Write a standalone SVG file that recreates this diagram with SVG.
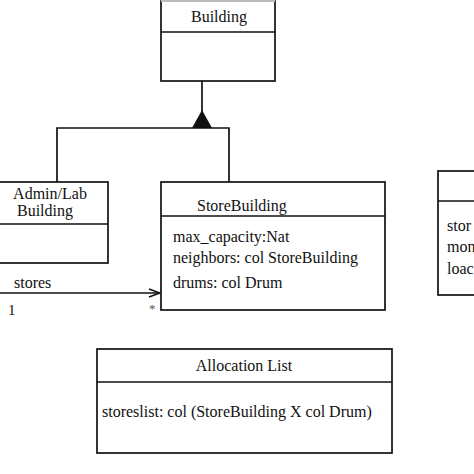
<svg xmlns="http://www.w3.org/2000/svg" width="474" height="474" viewBox="0 0 474 474">
<style>
.box{fill:#fff;stroke:#111;stroke-width:1.7}
.ln{fill:none;stroke:#111;stroke-width:1.7}
text{font-family:"Liberation Serif","Times New Roman",serif;font-size:16px;fill:#111}
.c{text-anchor:middle}
</style>
<defs>
<marker id="open" markerWidth="14" markerHeight="10" refX="12" refY="5" orient="auto" markerUnits="userSpaceOnUse">
<path d="M1,1 L12,5 L1,9" fill="none" stroke="#111" stroke-width="1.5"/>
</marker>
</defs>
<g id="connectors">
<line class="ln" x1="202" y1="81" x2="202" y2="112"/>
<polygon points="202,110 192,128 212,128" fill="#111"/>
<polyline class="ln" points="57,182 57,128 229,128 229,182"/>
<line class="ln" x1="0" y1="293" x2="160" y2="293" marker-end="url(#open)"/>
<text x="14" y="288">stores</text>
<text x="8" y="315" style="font-size:15px">1</text>
<text x="149" y="313" style="font-size:13px;fill:#555">*</text>
</g>
<g id="building">
<rect class="box" x="161" y="1" width="114" height="80"/>
<line x1="161" y1="1" x2="275" y2="1" stroke="#bbb" stroke-width="2"/>
<line class="ln" x1="161" y1="32" x2="275" y2="32"/>
<text class="c" x="219" y="22">Building</text>
</g>
<g id="adminlab">
<rect class="box" x="-10" y="182" width="118" height="81"/>
<line class="ln" x1="-10" y1="224" x2="108" y2="224"/>
<text class="c" x="50" y="199">Admin/Lab</text>
<text class="c" x="45" y="216">Building</text>
</g>
<g id="storebuilding">
<rect class="box" x="161" y="182" width="224" height="128"/>
<line class="ln" x1="161" y1="216" x2="385" y2="216"/>
<text x="197" y="211">StoreBuilding</text>
<text x="173" y="242">max_capacity:Nat</text>
<text x="173" y="263">neighbors: col StoreBuilding</text>
<text x="173" y="288">drums: col Drum</text>
</g>
<g id="rightbox">
<rect class="box" x="438" y="171" width="50" height="124"/>
<line class="ln" x1="438" y1="201" x2="488" y2="201"/>
<text x="447" y="231">stor</text>
<text x="447" y="252">mon</text>
<text x="447" y="274">loac</text>
</g>
<g id="allocation">
<rect class="box" x="97" y="349" width="295" height="104"/>
<line class="ln" x1="97" y1="382" x2="392" y2="382"/>
<text class="c" x="244" y="371">Allocation List</text>
<text x="102" y="417">storeslist: col (StoreBuilding X col Drum)</text>
</g>
</svg>
